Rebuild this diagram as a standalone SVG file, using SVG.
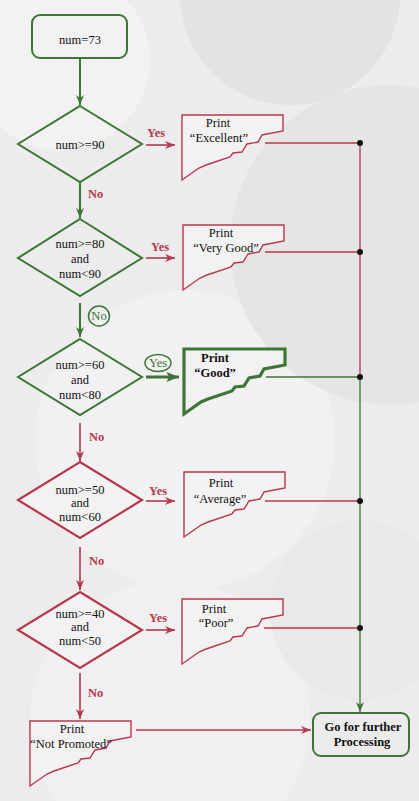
<svg xmlns="http://www.w3.org/2000/svg" width="419" height="801" viewBox="0 0 419 801">
<style>
.t{font-family:"Liberation Serif","Times New Roman",serif;font-size:12.5px;fill:#111;text-anchor:middle}
.b{font-weight:bold}
.lr{font-family:"Liberation Serif","Times New Roman",serif;font-size:12.5px;font-weight:bold;fill:#b8374d}
.lg{font-family:"Liberation Serif","Times New Roman",serif;font-size:12.5px;fill:#3c7535;text-anchor:middle}
.g{fill:none;stroke:#3c7535;stroke-width:2}
.r{fill:none;stroke:#b8374d;stroke-width:1.6}
.pr{fill:#f2f2f2;stroke:#b8374d;stroke-width:1.4}
.pg{fill:#f2f2f2;stroke:#3c7535;stroke-width:3.2}
.cr{stroke:#b8374d;stroke-width:1.3;fill:none}
.cg{stroke:#3c7535;stroke-width:1.3;fill:none}
.dot{fill:#111}
</style>
<defs>
<marker id="ag" viewBox="0 0 10 8" refX="10" refY="4" markerWidth="10" markerHeight="8" markerUnits="userSpaceOnUse" orient="auto"><path d="M0,0 L10,4 L0,8 L3,4 z" fill="#3c7535"/></marker>
<marker id="ar" viewBox="0 0 10 8" refX="10" refY="4" markerWidth="10" markerHeight="8" markerUnits="userSpaceOnUse" orient="auto"><path d="M0,0 L10,4 L0,8 L3,4 z" fill="#b8374d"/></marker>
<marker id="agb" viewBox="0 0 10 8" refX="10" refY="4" markerWidth="13" markerHeight="10" markerUnits="userSpaceOnUse" orient="auto"><path d="M0,0 L10,4 L0,8 L2,4 z" fill="#3c7535"/></marker>
<path id="doc" d="M0,0 H101 V16 L80,20 L76,27 L65,29 L60,37 L51,38 L48,42 L30,48 L24,50 L17,53 L0,65 Z"/>
</defs>

<g id="background">
<rect width="419" height="801" fill="#ececec"/>
<circle cx="185" cy="440" r="150" fill="#f1f1f1"/>
<circle cx="390" cy="245" r="160" fill="#e5e5e5"/>
<circle cx="290" cy="-5" r="110" fill="#e3e3e3"/>
<circle cx="60" cy="60" r="90" fill="#f2f2f2"/>
<circle cx="170" cy="720" r="140" fill="#f0f0f0"/>
<circle cx="360" cy="610" r="90" fill="#e9e9e9"/>
</g>

<g id="connectors">
<line x1="80" y1="58" x2="80" y2="105" class="g" marker-end="url(#ag)"/>
<line x1="146" y1="145" x2="175" y2="145" class="r" marker-end="url(#ar)"/>
<text x="147" y="137" class="lr">Yes</text>
<line x1="80" y1="182" x2="80" y2="218" class="g" marker-end="url(#ag)"/>
<text x="88" y="198" class="lr">No</text>
<line x1="146" y1="258" x2="175" y2="258" class="r" marker-end="url(#ar)"/>
<text x="151" y="251" class="lr">Yes</text>
<line x1="80" y1="303" x2="80" y2="337" class="g" marker-end="url(#ag)"/>
<ellipse cx="99" cy="316" rx="10.5" ry="10" fill="none" stroke="#3c7535" stroke-width="1.5"/>
<text x="99" y="320" class="lg">No</text>
<line x1="146" y1="377" x2="179" y2="377" stroke="#3c7535" stroke-width="3.2" marker-end="url(#agb)"/>
<ellipse cx="158" cy="363" rx="13" ry="8.5" fill="none" stroke="#3c7535" stroke-width="1.5"/>
<text x="158" y="367" class="lg">Yes</text>
<line x1="80" y1="423" x2="80" y2="461" class="r" marker-end="url(#ar)"/>
<text x="89" y="441" class="lr">No</text>
<line x1="146" y1="501" x2="175" y2="501" class="r" marker-end="url(#ar)"/>
<text x="149" y="495" class="lr">Yes</text>
<line x1="80" y1="547" x2="80" y2="590" class="r" marker-end="url(#ar)"/>
<text x="89" y="565" class="lr">No</text>
<line x1="146" y1="630" x2="175" y2="630" class="r" marker-end="url(#ar)"/>
<text x="149" y="622" class="lr">Yes</text>
<line x1="80" y1="673" x2="80" y2="719" class="r" marker-end="url(#ar)"/>
<text x="88" y="697" class="lr">No</text>
<line x1="136" y1="730" x2="311" y2="730" class="r" marker-end="url(#ar)"/>
<line x1="265" y1="143" x2="360" y2="143" class="cr"/>
<line x1="265" y1="252" x2="360" y2="252" class="cr"/>
<line x1="266" y1="377" x2="360" y2="377" class="cg"/>
<line x1="265" y1="501" x2="360" y2="501" class="cr"/>
<line x1="264" y1="628" x2="360" y2="628" class="cr"/>
<line x1="360" y1="143" x2="360" y2="377" class="cr"/>
<line x1="360" y1="377" x2="360" y2="712" class="cg" marker-end="url(#ag)"/>
<circle cx="360" cy="143" r="3" class="dot"/>
<circle cx="360" cy="252" r="3" class="dot"/>
<circle cx="360" cy="377" r="3" class="dot"/>
<circle cx="360" cy="501" r="3" class="dot"/>
<circle cx="360" cy="628" r="3" class="dot"/>
</g>

<g id="start">
<rect x="32" y="15" width="95" height="43" rx="8" fill="#f2f2f2" class="g"/>
<text x="80" y="44" class="t">num=73</text>
</g>

<g id="d1">
<polygon points="80,106 142,144 80,182 18,144" fill="#f2f2f2" class="g"/>
<text x="80" y="149" class="t">num&gt;=90</text>
</g>
<g id="p1">
<use href="#doc" x="182" y="115" class="pr"/>
<text x="218" y="127" class="t">Print</text>
<text x="219" y="142" class="t">“Excellent”</text>
</g>

<g id="d2">
<polygon points="80,219 142,258 80,296 18,258" fill="#f2f2f2" class="g"/>
<text x="80" y="248" class="t">num&gt;=80</text>
<text x="80" y="263" class="t">and</text>
<text x="80" y="278" class="t">num&lt;90</text>
</g>
<g id="p2">
<use href="#doc" x="183" y="225" class="pr"/>
<text x="221" y="237" class="t">Print</text>
<text x="226" y="252" class="t">“Very Good”</text>
</g>

<g id="d3">
<polygon points="80,339 142,377 80,415 18,377" fill="#f2f2f2" class="g"/>
<text x="80" y="369" class="t">num&gt;=60</text>
<text x="80" y="384" class="t">and</text>
<text x="80" y="399" class="t">num&lt;80</text>
</g>
<g id="p3">
<use href="#doc" x="184" y="349" class="pg"/>
<text x="215" y="362" class="t b">Print</text>
<text x="215" y="377" class="t b">“Good”</text>
</g>

<g id="d4">
<polygon points="80,462 142,500 80,538 18,500" fill="#f2f2f2" stroke="#b8374d" stroke-width="2.2"/>
<text x="80" y="494" class="t">num&gt;=50</text>
<text x="80" y="507" class="t">and</text>
<text x="80" y="521" class="t">num&lt;60</text>
</g>
<g id="p4">
<use href="#doc" x="184" y="472" class="pr"/>
<text x="221" y="487" class="t">Print</text>
<text x="220" y="503" class="t">“Average”</text>
</g>

<g id="d5">
<polygon points="80,592 142,630 80,668 18,630" fill="#f2f2f2" stroke="#b8374d" stroke-width="2.2"/>
<text x="80" y="618" class="t">num&gt;=40</text>
<text x="80" y="631" class="t">and</text>
<text x="80" y="645" class="t">num&lt;50</text>
</g>
<g id="p5">
<use href="#doc" x="182" y="599" class="pr"/>
<text x="214" y="613" class="t">Print</text>
<text x="216" y="627" class="t">“Poor”</text>
</g>

<g id="p6">
<use href="#doc" x="30" y="721" class="pr"/>
<text x="72" y="733" class="t">Print</text>
<text x="71" y="748" class="t">“Not Promoted”</text>
</g>

<g id="end">
<rect x="313" y="713" width="96" height="43" rx="8" fill="#f2f2f2" class="g"/>
<text x="363" y="731" class="t b">Go for further</text>
<text x="362" y="746" class="t b">Processing</text>
</g>
</svg>
